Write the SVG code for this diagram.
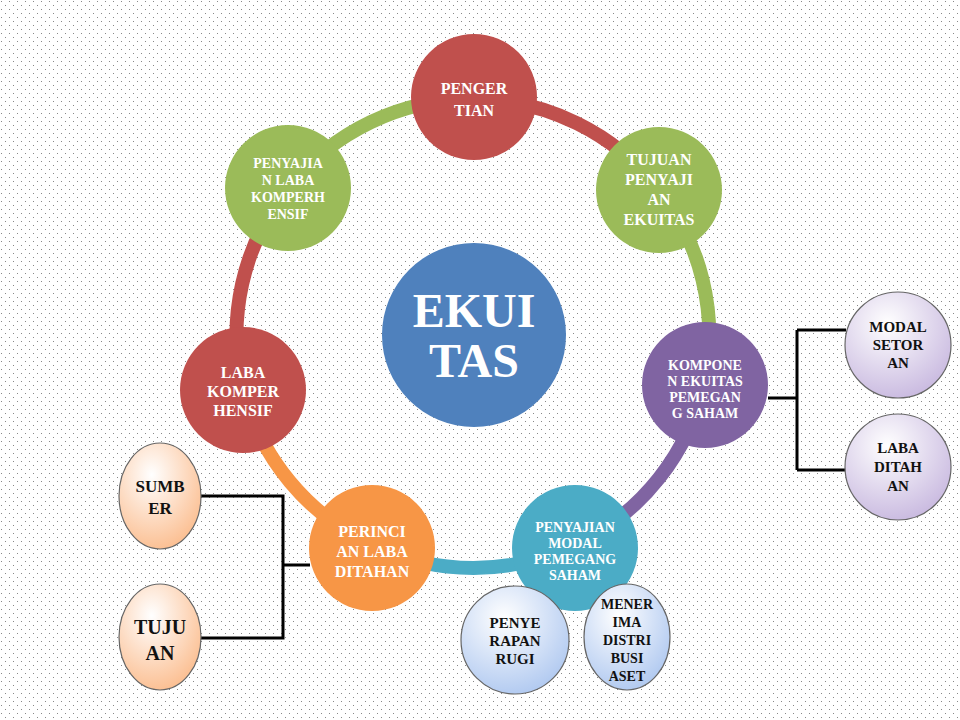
<svg xmlns="http://www.w3.org/2000/svg" width="960" height="720" viewBox="0 0 960 720">
<defs>
<pattern id="dots" width="8" height="8" patternUnits="userSpaceOnUse"><rect x="1" y="1" width="1" height="1" fill="#888"/><rect x="5" y="5" width="1" height="1" fill="#888"/></pattern>
<radialGradient id="gp" cx="0.4" cy="0.3" r="0.8"><stop offset="0" stop-color="#fff"/><stop offset="1" stop-color="#c4b3dd"/></radialGradient>
<radialGradient id="go" cx="0.4" cy="0.3" r="0.8"><stop offset="0" stop-color="#fff"/><stop offset="1" stop-color="#fbb886"/></radialGradient>
<radialGradient id="gb" cx="0.4" cy="0.3" r="0.8"><stop offset="0" stop-color="#fff"/><stop offset="1" stop-color="#a9c4ef"/></radialGradient>
</defs>
<style>
.t{font-family:"Liberation Serif",serif;font-weight:bold;text-anchor:middle;fill:#fff;font-size:16px}
.d{font-family:"Liberation Serif",serif;font-weight:bold;text-anchor:middle;fill:#111;font-size:15px}
.arc{fill:none;stroke-width:14}
.sub{stroke:#666;stroke-width:1.2}
.con{fill:none;stroke:#000;stroke-width:3}
</style>
<rect width="960" height="720" fill="#fff"/>
<rect width="960" height="720" fill="url(#dots)"/>
<g id="connectors">
<path class="arc" stroke="#c0504d" d="M474,99 A236,236 0 0 1 659,190"/>
<path class="arc" stroke="#9bbb59" d="M659,190 A236,236 0 0 1 705,380"/>
<path class="arc" stroke="#8064a2" d="M705,380 A236,236 0 0 1 575,545"/>
<path class="arc" stroke="#4bacc6" d="M575,545 A236,236 0 0 1 372,545"/>
<path class="arc" stroke="#f79646" d="M372,545 A236,236 0 0 1 243,390"/>
<path class="arc" stroke="#c0504d" d="M243,390 A236,236 0 0 1 288,188"/>
<path class="arc" stroke="#9bbb59" d="M288,188 A236,236 0 0 1 474,99"/>
<path class="con" d="M768,398 H797 M797,330 V470 M797,330 H846 M797,470 H846"/>
<path class="con" d="M200,496 H283 V638 H200 M283,565 H310"/>
</g>
<g id="center"><circle cx="474" cy="335" r="92" fill="#4f81bd"/><text class="t" style="font-size:48px" x="474" y="327">EKUI</text><text class="t" style="font-size:48px" x="474" y="377">TAS</text></g>
<g id="pengertian"><circle cx="474" cy="97" r="63" fill="#c0504d"/><text class="t" x="474" y="94">PENGER</text><text class="t" x="474" y="116">TIAN</text></g>
<g id="tujuan"><circle cx="659" cy="190" r="63" fill="#9bbb59"/><text class="t" x="659" y="165">TUJUAN</text><text class="t" x="659" y="185">PENYAJI</text><text class="t" x="659" y="205">AN</text><text class="t" x="659" y="225">EKUITAS</text></g>
<g id="komponen"><circle cx="705" cy="385" r="63" fill="#8064a2"/><text class="t" style="font-size:14px" x="705" y="370">KOMPONE</text><text class="t" style="font-size:14px" x="705" y="386">N EKUITAS</text><text class="t" style="font-size:14px" x="705" y="402">PEMEGAN</text><text class="t" style="font-size:14px" x="705" y="418">G SAHAM</text></g>
<g id="modal"><circle cx="575" cy="548" r="63" fill="#4bacc6"/><text class="t" style="font-size:14px" x="575" y="532">PENYAJIAN</text><text class="t" style="font-size:14px" x="575" y="548">MODAL</text><text class="t" style="font-size:14px" x="575" y="564">PEMEGANG</text><text class="t" style="font-size:14px" x="575" y="580">SAHAM</text></g>
<g id="perincian"><circle cx="372" cy="548" r="63" fill="#f79646"/><text class="t" x="372" y="537">PERINCI</text><text class="t" x="372" y="557">AN LABA</text><text class="t" x="372" y="577">DITAHAN</text></g>
<g id="laba"><circle cx="243" cy="390" r="63" fill="#c0504d"/><text class="t" x="243" y="378">LABA</text><text class="t" x="243" y="397">KOMPER</text><text class="t" x="243" y="416">HENSIF</text></g>
<g id="penyajianlaba"><circle cx="288" cy="188" r="63" fill="#9bbb59"/><text class="t" style="font-size:14px" x="288" y="168">PENYAJIA</text><text class="t" style="font-size:14px" x="288" y="185">N LABA</text><text class="t" style="font-size:14px" x="288" y="202">KOMPERH</text><text class="t" style="font-size:14px" x="288" y="219">ENSIF</text></g>
<g id="modalsetoran"><circle class="sub" cx="898" cy="345" r="53" fill="url(#gp)"/><text class="d" x="898" y="332">MODAL</text><text class="d" x="898" y="350">SETOR</text><text class="d" x="898" y="368">AN</text></g>
<g id="labaditahan"><circle class="sub" cx="898" cy="467" r="53" fill="url(#gp)"/><text class="d" x="898" y="453">LABA</text><text class="d" x="898" y="472">DITAH</text><text class="d" x="898" y="491">AN</text></g>
<g id="sumber"><ellipse class="sub" cx="160" cy="496" rx="41" ry="53" fill="url(#go)"/><text class="d" style="font-size:17px" x="160" y="492">SUMB</text><text class="d" style="font-size:17px" x="160" y="514">ER</text></g>
<g id="tujuan2"><ellipse class="sub" cx="160" cy="637" rx="41" ry="53" fill="url(#go)"/><text class="d" style="font-size:20px" x="160" y="634">TUJU</text><text class="d" style="font-size:20px" x="160" y="660">AN</text></g>
<g id="penyerapan"><circle class="sub" cx="515" cy="640" r="54" fill="url(#gb)"/><text class="d" x="515" y="628">PENYE</text><text class="d" x="515" y="646">RAPAN</text><text class="d" x="515" y="664">RUGI</text></g>
<g id="menerima"><ellipse class="sub" cx="627" cy="637" rx="43" ry="53" fill="url(#gb)"/><text class="d" style="font-size:14px" x="627" y="609">MENER</text><text class="d" style="font-size:14px" x="627" y="627">IMA</text><text class="d" style="font-size:14px" x="627" y="645">DISTRI</text><text class="d" style="font-size:14px" x="627" y="663">BUSI</text><text class="d" style="font-size:14px" x="627" y="681">ASET</text></g>
</svg>
